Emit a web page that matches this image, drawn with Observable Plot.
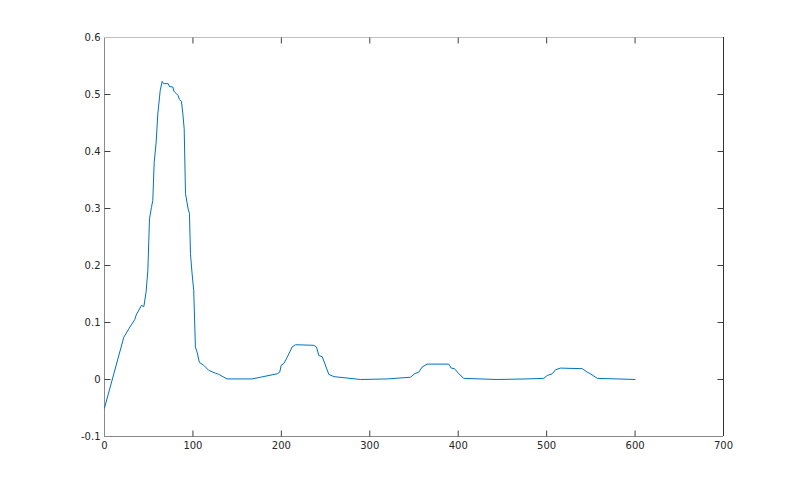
<!DOCTYPE html>
<html>
<head>
<meta charset="utf-8">
<script src="https://cdn.jsdelivr.net/npm/d3@7"></script>
<script src="https://cdn.jsdelivr.net/npm/@observablehq/plot@0.6"></script>
<style>
  html, body { margin: 0; padding: 0; background: #fff; }
  #chart svg { display: block; }
</style>
</head>
<body>
<div id="chart"></div>
<script>
// Data
const xValues = [0, 21.8, 27.5, 34.2, 35.8, 41.8, 44.5, 47, 49, 50.9, 53.1, 54.6, 56.2, 58.4, 60.3, 63, 65.2, 67, 72, 73.5, 77.3, 78.4, 83.3, 84.8, 87, 88.6, 90.1, 91.6, 94.6, 96.1, 97.2, 99.1, 100.9, 102.8, 104.7, 107.3, 112.2, 117.9, 125.5, 129.2, 138.6, 166.9, 176.3, 195.2, 198.2, 199.8, 202.8, 206.6, 212.2, 216, 236.7, 239.7, 242.4, 246.2, 253.7, 259.4, 289.6, 319.8, 346.1, 350.6, 355.5, 359.3, 364.9, 389.4, 392.1, 395.8, 400.7, 406.3, 444, 477.9, 496.8, 500.6, 506.2, 510, 515.6, 540.2, 545.8, 549.6, 557.2, 579.8, 600];
const yValues = [-0.050, 0.074, 0.089, 0.105, 0.113, 0.130, 0.128, 0.153, 0.191, 0.282, 0.302, 0.314, 0.381, 0.416, 0.466, 0.507, 0.523, 0.519, 0.519, 0.514, 0.513, 0.506, 0.498, 0.491, 0.488, 0.466, 0.440, 0.326, 0.299, 0.291, 0.221, 0.185, 0.156, 0.057, 0.048, 0.030, 0.025, 0.016, 0.011, 0.009, 0.001, 0.001, 0.004, 0.010, 0.013, 0.025, 0.028, 0.039, 0.057, 0.061, 0.060, 0.057, 0.042, 0.040, 0.009, 0.005, 0.000, 0.001, 0.004, 0.010, 0.013, 0.022, 0.027, 0.027, 0.020, 0.019, 0.010, 0.002, 0.000, 0.001, 0.002, 0.007, 0.010, 0.017, 0.020, 0.019, 0.013, 0.010, 0.002, 0.001, 0.000];
const xTicks = [0, 100, 200, 300, 400, 500, 600, 700];
const yTicks = [-0.1, 0, 0.1, 0.2, 0.3, 0.4, 0.5, 0.6];
const xTickLabels = ["0", "100", "200", "300", "400", "500", "600", "700"];
const yTickLabels = ["-0.1", "0", "0.1", "0.2", "0.3", "0.4", "0.5", "0.6"];

const xDomain = [0, 700];
const yDomain = [-0.1, 0.6];

const series = xValues.map((x, i) => ({x, y: yValues[i]}));

const TL = 6;
const tick = (dx, dy) => ({draw(ctx) { ctx.moveTo(0, 0); ctx.lineTo(dx * TL, dy * TL); }});
const tickUp = tick(0, -1), tickDown = tick(0, 1), tickRight = tick(1, 0), tickLeft = tick(-1, 0);

const font = "DejaVu Sans, sans-serif";
const tickColor = "#404040";
const labelColor = "#262626";

const chart = Plot.plot({
  width: 800,
  height: 490,
  marginLeft: 104,
  marginRight: 77,
  marginTop: 37,
  marginBottom: 54,
  style: {fontFamily: font, background: "#fff"},
  x: {domain: xDomain, axis: null},
  y: {domain: yDomain, axis: null},
  marks: [
    // box
    Plot.ruleX([xDomain[0]], {stroke: "#8a8a8a", strokeWidth: 1}),
    Plot.ruleY([yDomain[0]], {stroke: "#8a8a8a", strokeWidth: 1}),
    Plot.ruleY([yDomain[1]], {stroke: "#c0c0c0", strokeWidth: 1}),
    Plot.ruleX([xDomain[1]], {stroke: "#333", strokeWidth: 1}),
    // inward ticks
    Plot.dot(xTicks.slice(1, -1), {x: d => d, y: yDomain[0], symbol: tickUp, stroke: tickColor, fill: "none", strokeWidth: 1}),
    Plot.dot(xTicks.slice(1, -1), {x: d => d, y: yDomain[1], symbol: tickDown, stroke: tickColor, fill: "none", strokeWidth: 1}),
    Plot.dot(yTicks.slice(1, -1), {x: xDomain[0], y: d => d, symbol: tickRight, stroke: tickColor, fill: "none", strokeWidth: 1}),
    Plot.dot(yTicks.slice(1, -1), {x: xDomain[1], y: d => d, symbol: tickLeft, stroke: tickColor, fill: "none", strokeWidth: 1}),
    // labels
    Plot.text(xTicks, {x: d => d, y: yDomain[0], text: (d, i) => xTickLabels[i], dy: 9, fontSize: 10, fill: labelColor, lineAnchor: "middle"}),
    Plot.text(yTicks, {x: xDomain[0], y: d => d, text: (d, i) => yTickLabels[i], dx: -4, textAnchor: "end", fontSize: 10, fill: labelColor}),
    // data line
    Plot.line(series, {x: "x", y: "y", stroke: "#0072BD", strokeWidth: 1})
  ]
});
document.getElementById("chart").appendChild(chart);
</script>
</body>
</html>
